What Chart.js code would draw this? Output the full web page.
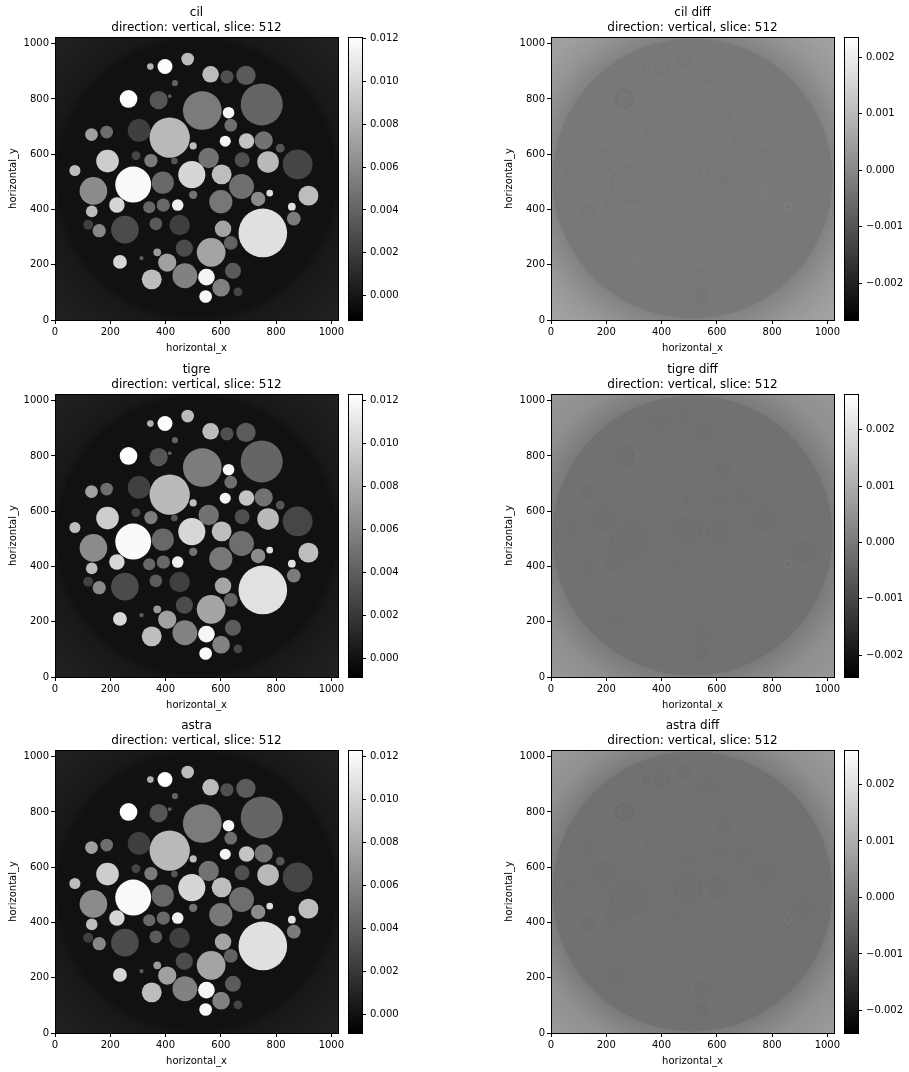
<!DOCTYPE html>
<html><head><meta charset="utf-8">
<script src="https://cdn.jsdelivr.net/npm/chart.js@4/dist/chart.umd.min.js"></script>
<style>html,body{margin:0;padding:0;background:#fff;width:909px;height:1072px;overflow:hidden}canvas{position:absolute;display:block}</style>
</head><body>
<script>
// ---- data ----
const panelNames = ["cil","cil diff","tigre","tigre diff","astra","astra diff"];
const subtitle = "direction: vertical, slice: 512";
const xLabel = "horizontal_x", yLabel = "horizontal_y";
const axisTicks = [0,200,400,600,800,1000], imageSize = 1024;
const colorMin = [-0.00113,-0.00265,-0.00085,-0.00239,-0.00087,-0.00240];
const colorMax = [0.01206,0.00236,0.01228,0.002635,0.01231,0.00261];
const colorStep = [0.002,0.001,0.002,0.001,0.002,0.001];

const circleX = [345,398,480,563,622,691,434,266,375,415,533,748,628,636,304,415,132,187,616,693,755,815,500,190,293,347,432,556,677,771,878,72,283,139,390,495,603,675,500,777,917,735,600,224,133,341,392,444,857,864,120,160,253,365,451,608,752,636,468,565,370,406,235,313,470,350,548,644,601,662,545];
const circleY = [917,917,944,889,880,885,857,800,796,810,758,780,750,705,686,660,671,680,647,648,650,622,630,575,595,577,575,586,580,572,563,541,490,467,497,526,527,483,453,459,450,438,428,416,393,408,416,416,410,367,345,323,327,348,344,330,315,279,260,245,245,208,210,224,160,147,155,178,117,102,85];
const circleR = [12,27,23,30,24,35,11,32,33,7,70,76,21,23,41,73,23,23,20,28,33,16,13,41,16,24,12,37,27,39,54,20,65,50,40,49,36,45,15,12,36,26,42,28,21,22,24,21,14,25,18,24,50,23,37,30,88,25,31,52,14,33,25,8,45,36,30,29,32,16,23];
// attenuation above the disc level
const circleValue = [0.0082,0.0122,0.0088,0.0088,0.0032,0.0038,0.0042,0.0122,0.0035,0.0038,0.0055,0.0043,0.0118,0.0048,0.0024,0.0087,0.0074,0.0048,0.0118,0.0092,0.0050,0.0035,0.0089,0.0097,0.0027,0.0055,0.0035,0.0050,0.0032,0.0087,0.0027,0.0089,0.0120,0.0063,0.0045,0.0102,0.0089,0.0048,0.0050,0.0105,0.0089,0.0063,0.0053,0.0102,0.0089,0.0045,0.0045,0.0115,0.0107,0.0055,0.0024,0.0061,0.0030,0.0038,0.0024,0.0076,0.0107,0.0042,0.0030,0.0076,0.0071,0.0074,0.0102,0.0038,0.0058,0.0089,0.0118,0.0038,0.0058,0.0027,0.0120];
// diff panels: value of each circle's rim and inside, relative to the disc level
const diffRim = [-0.00010,-0.00008,-0.00005,-0.00005,-0.00001,-0.00002,-0.00004,-0.00016,-0.00002,-0.00002,-0.00003,-0.00004,-0.00008,-0.00001,-0.00001,-0.00005,-0.00005,-0.00002,-0.00007,-0.00005,-0.00002,-0.00002,-0.00007,-0.00008,-0.00001,-0.00002,-0.00001,-0.00002,-0.00001,-0.00007,-0.00001,-0.00005,-0.00008,-0.00004,-0.00002,-0.00008,-0.00007,-0.00003,0.00002,0.00014,-0.00005,0.00003,0.00005,-0.00005,-0.00005,0.00002,0.00002,-0.00005,0.00020,0.00003,0.00001,0.00004,0.00003,0.00001,0.00001,0.00007,0.00005,0.00001,0.00001,0.00006,0.00006,0.00005,-0.00005,0.00012,0.00006,0.00006,-0.00005,0.00004,0.00006,0.00001,-0.00007];
const diffInner = [-0.00001,-0.00002,-0.00001,-0.00001,0,0,0,-0.00004,0,0,0,0,-0.00002,0,0,0,-0.00001,0,-0.00002,-0.00001,0,0,-0.00001,-0.00001,0,0,0,0,0,-0.00001,0,-0.00001,-0.00001,0,0,-0.00001,-0.00001,0,0,0.00002,-0.00001,0,0,-0.00001,-0.00001,0,0,-0.00002,-0.00002,0,0,0,0,0,0,0,0,0,0,0,0,0,-0.00001,0,0,0,-0.00002,0,0,0,-0.00003];

// background: level against distance from the image centre
const centre = [512];
const radialPos = [0,505,508,530,600,680,724];
const bgCil   = [-0.00025,-0.00025,-0.00012,0.00010,0.00030,0.00050,0.00058];
const bgCilD  = [-0.00030,-0.00030,-0.00010,0.00000,0.00030,0.00050,0.00056];
const bgTigre = [0.00003,0.00003,0.00016,0.00040,0.00060,0.00078,0.00085];
const bgTigreD= [-0.00017,-0.00017,0.00003,0.00012,0.00040,0.00055,0.00060];
const bgAstra = [0.00001,0.00001,0.00014,0.00038,0.00058,0.00076,0.00084];
const bgAstraD= [-0.00018,-0.00018,0.00002,0.00012,0.00042,0.00058,0.00064];
const panelBg = [bgCil,bgCilD,bgTigre,bgTigreD,bgAstra,bgAstraD];

// ---- layout ----
const rowTop = [37,394,750], colLeft = [55,551], boxSize = 283;
const FONT = "'DejaVu Sans'";
Chart.defaults.font.family = FONT;
Chart.defaults.font.size = 10;
Chart.defaults.color = '#000';

function gray(v,i){
  const g = Math.max(0,Math.min(255,Math.round((v-colorMin[i])/(colorMax[i]-colorMin[i])*255)));
  return `rgb(${g},${g},${g})`;
}
const framePlugin = {id:'frame',afterDatasetsDraw(c){
  const a=c.chartArea,x=c.ctx;x.save();x.strokeStyle='#000';x.lineWidth=1;
  x.strokeRect(Math.round(a.left)+0.5,Math.round(a.top)+0.5,Math.round(a.width),Math.round(a.height));x.restore();
}};
function addCanvas(l,t,w,h){
  const c=document.createElement('canvas');c.width=w;c.height=h;
  c.style.left=l+'px';c.style.top=t+'px';c.style.width=w+'px';c.style.height=h+'px';
  document.body.appendChild(c);return c;
}
function fmt(v){const s=Math.abs(v).toFixed(3);return (Math.abs(v)<1e-9?'':(v<0?'\u2212':''))+s;}
function setAxisTicks(s){s.ticks=axisTicks.map(value=>({value}));}

function pixelRadius(ctx){
  const s=ctx.chart.scales.x;
  if(!s||!ctx.raw)return 0;
  const r=s.getPixelForValue(ctx.raw.size)-s.getPixelForValue(0);
  return Number.isFinite(r)?Math.max(r,0):0;
}

function imagePanel(i){
  const isDiff = i%2===1, row=Math.floor(i/2), col=i%2;
  const titleH=36, bottomH=36, leftM=55, rightM=55;
  const disc = panelBg[i][0];
  const canvas = addCanvas(colLeft[col]-leftM,rowTop[row]-titleH,leftM+boxSize+rightM,titleH+boxSize+bottomH);
  const circles = circleX.map((x,k)=>({x,y:circleY[k],size:circleR[k],k}));
  new Chart(canvas,{
    type:'scatter',
    data:{datasets:[
      {data:circles,clip:0,order:1,
       pointBackgroundColor:c=>c.raw?gray(isDiff?disc+diffInner[c.raw.k]:disc+circleValue[c.raw.k],i):'#000',
       pointBorderColor:c=>(isDiff&&c.raw)?gray(disc+diffRim[c.raw.k],i):'rgba(0,0,0,0)',
       pointBorderWidth:isDiff?1:0,pointRadius:pixelRadius},
      {data:[{x:centre[0],y:centre[0],size:radialPos[radialPos.length-1]}],clip:0,order:2,pointBorderWidth:0,pointRadius:pixelRadius,
       pointBackgroundColor:c=>{
         if(!c.raw)return '#000';
         const ch=c.chart,px=ch.scales.x,py=ch.scales.y;
         if(!px||!py)return '#000';
         const cx=px.getPixelForValue(c.raw.x),cy=py.getPixelForValue(c.raw.y),R=pixelRadius(c);
         if(!Number.isFinite(cx)||!Number.isFinite(cy)||!(R>0))return '#000';
         const g=ch.ctx.createRadialGradient(cx,cy,0,cx,cy,R);
         radialPos.forEach((p,n)=>g.addColorStop(p/radialPos[radialPos.length-1],gray(panelBg[i][n],i)));
         return g;
       }}
    ]},
    options:{
      responsive:false,animation:false,events:[],devicePixelRatio:1,
      layout:{autoPadding:false,padding:{right:rightM,left:0,top:0,bottom:0}},
      plugins:{legend:{display:false},tooltip:{enabled:false},
        title:{display:true,fullSize:false,text:[panelNames[i],subtitle],color:'#000',
               font:{family:FONT,size:12,weight:'normal',lineHeight:1.25},padding:{top:4,bottom:2}}},
      scales:{
        x:{type:'linear',min:0,max:imageSize,afterBuildTicks:setAxisTicks,
           ticks:{padding:2,maxRotation:0,autoSkip:false,color:'#000',font:{family:FONT,size:10},callback:v=>String(v)},
           grid:{drawOnChartArea:false,drawTicks:true,tickLength:4,color:'#000',lineWidth:1},border:{display:false},
           title:{display:true,text:xLabel,color:'#000',font:{family:FONT,size:10},padding:{top:2,bottom:2}},
           afterFit(s){s.height=bottomH;}},
        y:{type:'linear',min:0,max:imageSize,afterBuildTicks:setAxisTicks,
           ticks:{padding:2,autoSkip:false,color:'#000',font:{family:FONT,size:10},callback:v=>String(v)},
           grid:{drawOnChartArea:false,drawTicks:true,tickLength:4,color:'#000',lineWidth:1},border:{display:false},
           title:{display:true,text:yLabel,color:'#000',font:{family:FONT,size:10},padding:{top:7,bottom:2}},
           afterFit(s){s.width=leftM;}}
      }
    },
    plugins:[framePlugin]
  });
}

function colorbar(i){
  const row=Math.floor(i/2), col=i%2, pad=12, barW=14, rightW=50;
  const left=colLeft[col]+boxSize+10;
  const canvas=addCanvas(left-1,rowTop[row]-pad,1+barW+rightW,boxSize+2*pad);
  new Chart(canvas,{
    type:'bar',
    data:{labels:[panelNames[i]],datasets:[{data:[[colorMin[i],colorMax[i]]],barPercentage:1,categoryPercentage:1,borderSkipped:false,
      backgroundColor:c=>{
        const a=c.chart.chartArea;if(!a)return '#888';
        const g=c.chart.ctx.createLinearGradient(0,a.bottom,0,a.top);
        g.addColorStop(0,'#000');g.addColorStop(1,'#fff');return g;
      }}]},
    options:{
      responsive:false,animation:false,events:[],devicePixelRatio:1,
      layout:{padding:{left:1,right:0,top:pad,bottom:pad}},
      plugins:{legend:{display:false},tooltip:{enabled:false},title:{display:false}},
      scales:{
        x:{display:false,offset:true},
        y:{position:'right',min:colorMin[i],max:colorMax[i],
           ticks:{stepSize:colorStep[i],includeBounds:false,padding:4,color:'#000',font:{family:FONT,size:10},callback:fmt},
           grid:{drawOnChartArea:false,drawTicks:true,tickLength:4,color:'#000',lineWidth:1},border:{display:false},
           afterFit(s){s.width=rightW;}}
      }
    },
    plugins:[framePlugin]
  });
}
panelNames.forEach((_,i)=>{imagePanel(i);colorbar(i);});
</script>
</body></html>
